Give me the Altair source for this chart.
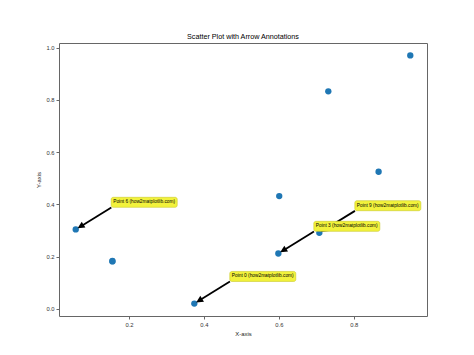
import altair as alt
import pandas as pd
import math

# Data
xs = [0.3745, 0.9507, 0.7320, 0.5987, 0.1560, 0.1560, 0.0581, 0.8662, 0.6011, 0.7081]
ys = [0.0206, 0.9699, 0.8324, 0.2123, 0.1818, 0.1834, 0.3042, 0.5248, 0.4319, 0.2912]
annotated = [0, 3, 6, 9]
offset = 0.1
x_ticks = [0.2, 0.4, 0.6, 0.8]
y_ticks = [0.0, 0.2, 0.4, 0.6, 0.8, 1.0]

W, H = 368, 273
FONT = "Liberation Sans"

# matplotlib-like 5% margins
xspan = max(xs) - min(xs)
yspan = max(ys) - min(ys)
xdom = [min(xs) - 0.05 * xspan, max(xs) + 0.05 * xspan]
ydom = [min(ys) - 0.05 * yspan, max(ys) + 0.05 * yspan]
xd = xdom[1] - xdom[0]
yd = ydom[1] - ydom[0]

pts = pd.DataFrame({"x": xs, "y": ys})

# annotation geometry
corner_dy = 3 * yd / H  # text bbox lower edge below anchor (pixels -> data)
rows = []
for i in annotated:
    px, py = xs[i], ys[i]
    cx, cy = px + offset, py + offset - corner_dy
    rows.append({
        "label": f"Point {i} (how2matplotlib.com)",
        "tx": px + offset, "ty": py + offset,
        "sx": px + 0.95 * (cx - px), "sy": py + 0.95 * (cy - py),
        "ex": px + 0.12 * (cx - px), "ey": py + 0.12 * (cy - py),
        "hx": px + 0.05 * (cx - px), "hy": py + 0.05 * (cy - py),
    })
ann = pd.DataFrame(rows)

dxp = offset * W / xd
dyp = (offset - corner_dy) * H / yd
# arrow points from text (up-right) toward the point (down-left on screen)
angle = (math.degrees(math.atan2(-dxp, -dyp)) + 360) % 360

xscale = alt.Scale(domain=xdom, nice=False, zero=False)
yscale = alt.Scale(domain=ydom, nice=False, zero=False)

xenc = alt.X("x:Q", scale=xscale, title="X-axis",
             axis=alt.Axis(values=x_ticks, format=".1f", grid=False))
yenc = alt.Y("y:Q", scale=yscale, title="Y-axis",
             axis=alt.Axis(values=y_ticks, format=".1f", grid=False))

points = alt.Chart(pts).mark_circle(size=40, color="#1f77b4", opacity=1).encode(x=xenc, y=yenc)

lines = alt.Chart(ann).mark_rule(color="black", strokeWidth=1.8).encode(
    x=alt.X("sx:Q", scale=xscale), y=alt.Y("sy:Q", scale=yscale),
    x2="ex:Q", y2="ey:Q")

heads = alt.Chart(ann).mark_point(
    shape="M0,0 L-1,2 L1,2 Z", size=49, filled=True, color="black",
    opacity=1, angle=angle, strokeWidth=0).encode(
    x=alt.X("hx:Q", scale=xscale), y=alt.Y("hy:Q", scale=yscale))

boxes = alt.Chart(ann).mark_rect(
    fill="#f2f23c", stroke="#c9c92a", strokeWidth=0.6, cornerRadius=2,
    xOffset=-2, x2Offset=64, yOffset=-6, y2Offset=4).encode(
    x=alt.X("tx:Q", scale=xscale), x2="tx:Q",
    y=alt.Y("ty:Q", scale=yscale), y2="ty:Q")

texts = alt.Chart(ann).mark_text(
    align="left", baseline="middle", fontSize=4.8, font=FONT, color="black", dy=-1).encode(
    x=alt.X("tx:Q", scale=xscale), y=alt.Y("ty:Q", scale=yscale), text="label:N")

chart = alt.layer(points, lines, heads, boxes, texts).properties(
    width=W, height=H,
    title=alt.TitleParams("Scatter Plot with Arrow Annotations", fontSize=7.2,
                          font=FONT, fontWeight="normal", color="black", offset=3),
    autosize=alt.AutoSizeParams(type="none"),
    padding={"left": 59, "top": 43, "right": 47, "bottom": 39},
).configure_view(stroke="#666666", strokeWidth=1).configure_axis(
    domain=False, tickColor="#666666", tickSize=3, labelFont=FONT, labelFontSize=5.8,
    labelColor="#333333", titleFont=FONT, titleFontSize=5.9, titleFontWeight="normal",
    titleColor="#222222", labelPadding=2,
).configure_axisX(titlePadding=4).configure_axisY(titlePadding=4)

chart.save("out.html", embed_options={"renderer": "svg", "actions": False})
